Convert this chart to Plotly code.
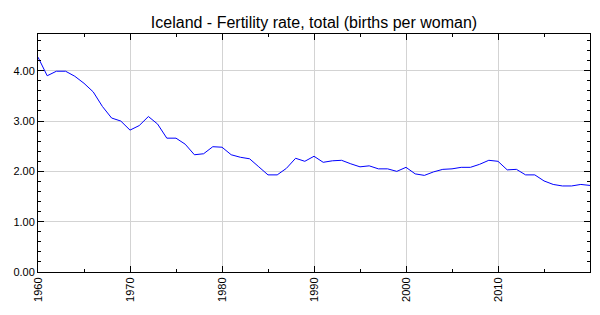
import plotly.graph_objects as go

years = list(range(1960, 2021))
fertility = [4.27, 3.90, 3.99, 3.99, 3.89, 3.75, 3.58, 3.29, 3.06, 3.00,
             2.82, 2.91, 3.09, 2.94, 2.66, 2.66, 2.54, 2.33, 2.35, 2.49,
             2.48, 2.33, 2.28, 2.25, 2.09, 1.93, 1.93, 2.06, 2.26, 2.20,
             2.30, 2.18, 2.21, 2.22, 2.15, 2.09, 2.11, 2.05, 2.05, 2.00,
             2.08, 1.95, 1.92, 1.99, 2.04, 2.05, 2.08, 2.08, 2.14, 2.22,
             2.20, 2.03, 2.04, 1.93, 1.93, 1.81, 1.74, 1.71, 1.71, 1.74,
             1.72]
x_ticks = [1960, 1970, 1980, 1990, 2000, 2010]
x_ticklabels = ["1960", "1970", "1980", "1990", "2000", "2010"]
y_ticks = [0, 1, 2, 3, 4]
y_ticklabels = ["0.00", "1.00", "2.00", "3.00", "4.00"]
title = "Iceland - Fertility rate, total (births per woman)"

fig = go.Figure()
fig.add_trace(go.Scatter(x=years, y=fertility, mode="lines",
                         line=dict(color="#0000ff", width=1),
                         hoverinfo="skip", showlegend=False))

font = "Liberation Sans, Arial, sans-serif"
fig.update_layout(
    width=600, height=315,
    margin=dict(l=38, r=10, t=34, b=43),
    paper_bgcolor="white", plot_bgcolor="white",
    title=dict(text=title, x=(38 + 590) / 2 / 600, xanchor="center",
               y=1 - 22 / 315, yanchor="middle",
               font=dict(family=font, size=16, color="#000")),
    font=dict(family=font, size=11, color="#000"),
)
fig.update_xaxes(
    range=[1960, 2020], tickmode="array", tickvals=x_ticks, ticktext=x_ticklabels,
    tickangle=-90, ticks="inside", ticklen=6, tickcolor="#000", tickwidth=1,
    showline=True, linecolor="#000", linewidth=1, mirror="ticks",
    showgrid=True, gridcolor="#d3d3d3", gridwidth=1, zeroline=False,
    minor=dict(tick0=1960, dtick=5, ticks="inside", ticklen=3, tickcolor="#000",
               showgrid=False),
    tickfont=dict(family=font, size=11, color="#000"),
)
fig.update_yaxes(
    range=[0, 4.73], tickmode="array", tickvals=y_ticks, ticktext=y_ticklabels,
    ticks="inside", ticklen=6, tickcolor="#000", tickwidth=1,
    showline=True, linecolor="#000", linewidth=1, mirror="ticks",
    showgrid=True, gridcolor="#d3d3d3", gridwidth=1, zeroline=False,
    minor=dict(tick0=0, dtick=0.2, ticks="inside", ticklen=3, tickcolor="#000",
               showgrid=False),
    tickfont=dict(family=font, size=11, color="#000"),
)

fig.write_html("out.html")
